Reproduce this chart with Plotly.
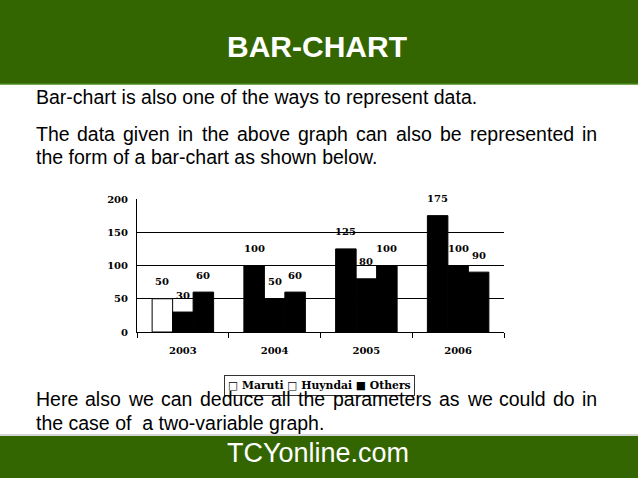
import plotly.graph_objects as go

# ---------------- data ----------------
years = ["2003", "2004", "2005", "2006"]
series_names = ["Maruti", "Huyndai", "Others"]
maruti = [50, 100, 125, 175]
huyndai = [30, 50, 80, 100]
others = [60, 60, 100, 90]
y_ticks = [0, 50, 100, 150, 200]

title_text = "BAR-CHART"
footer_text = "TCYonline.com"
para_lines = [
    ("Bar-chart is also one of the ways to represent data.", False),
    ("The data given in the above graph can also be represented in", True),
    ("the form of a bar-chart as shown below.", False),
    ("Here also we can deduce all the parameters as we could do in", True),
    ("the case of  a two-variable graph.", False),
]

# ---------------- layout geometry ----------------
W, H = 638, 478
ML, MR, MT, MB = 137, 134, 199, 146
PW, PH = W - ML - MR, H - MT - MB

def px(X):
    return (X - ML) / PW

def py(Y):
    return (H - MB - Y) / PH

GREEN = "#336600"
SERIF = "DejaVu Serif"
SANS = "Liberation Sans, Arial, sans-serif"

# styles (per-point colours; only the first Maruti bar is hollow)
series_colors = [
    ["white", "black", "black", "black"],
    ["black", "black", "black", "black"],
    ["black", "black", "black", "black"],
]
series_values = [maruti, huyndai, others]

fig = go.Figure()
for name, vals, cols in zip(series_names, series_values, series_colors):
    fig.add_trace(go.Bar(
        x=years, y=vals, name=name,
        marker=dict(color=cols, line=dict(color="black", width=1)),
        showlegend=False, hoverinfo="skip",
    ))

BARGAP = 0.33
cat_px = PW / len(years)
bar_px = cat_px * (1 - BARGAP) / len(series_names)

annotations = []
# value labels above bars (x given as category index)
for i, vals in enumerate(series_values):
    for j, v in enumerate(vals):
        annotations.append(dict(
            x=j, y=v, xref="x", yref="y", text=str(v),
            showarrow=False, xanchor="center", yanchor="middle",
            xshift=(i - 1) * bar_px, yshift=17,
            font=dict(family=SERIF, size=10, color="black", weight="bold"),
        ))

# legend box (manual, built from series names)
symbols = ["□", "□", "■"]
legend_txt = " ".join(f"{s} {n}" for s, n in zip(symbols, series_names))
annotations.append(dict(
    x=px(319), y=py(385.5), xref="paper", yref="paper", text=legend_txt,
    showarrow=False, xanchor="center", yanchor="middle",
    font=dict(family=SERIF, size=10.8, color="black", weight="bold"),
    bordercolor="#333333", borderwidth=1, borderpad=3, bgcolor="rgba(0,0,0,0)",
))

# title and footer
annotations.append(dict(
    x=px(317), y=py(46.5), xref="paper", yref="paper", text=title_text,
    showarrow=False, xanchor="center", yanchor="middle",
    font=dict(family=SANS, size=30, color="white", weight="bold"),
))
annotations.append(dict(
    x=px(318), y=py(453), xref="paper", yref="paper", text=footer_text,
    showarrow=False, xanchor="center", yanchor="middle",
    font=dict(family=SANS, size=27, color="white"),
))

# Arial / Liberation Sans advance widths (per 1000 em)
AW = dict(zip("abcdefghijklmnopqrstuvwxyz",
              [556, 556, 500, 556, 556, 278, 556, 556, 222, 222, 500, 222, 833,
               556, 556, 556, 556, 333, 500, 278, 556, 500, 722, 500, 500, 500]))
AW.update({"T": 611, "H": 722, "B": 667, "-": 333, ".": 278, " ": 278})

def wpx(s, fs):
    return sum(AW.get(c, 556) for c in s) * fs / 1000.0

FS = 19.5
LEFT, RIGHT = 35.5, 597.5
line_y = [97, 133.5, 157, 399, 422.5]
for (txt, just), yy in zip(para_lines, line_y):
    if not just:
        annotations.append(dict(
            x=px(LEFT), y=py(yy), xref="paper", yref="paper", text=txt.replace("  ", " &nbsp;"),
            showarrow=False, xanchor="left", yanchor="middle", borderpad=0, borderwidth=0,
            font=dict(family=SANS, size=FS, color="black"),
        ))
    else:
        words = txt.split(" ")
        total = sum(wpx(w, FS) for w in words)
        gap = (RIGHT - LEFT - total) / (len(words) - 1)
        xx = LEFT
        for w in words:
            annotations.append(dict(
                x=px(xx), y=py(yy), xref="paper", yref="paper", text=w,
                showarrow=False, xanchor="left", yanchor="middle", borderpad=0, borderwidth=0,
                font=dict(family=SANS, size=FS, color="black"),
            ))
            xx += wpx(w, FS) + gap

shapes = [
    dict(type="rect", xref="paper", yref="paper", x0=px(0), x1=px(W), y0=py(0), y1=py(84),
         fillcolor=GREEN, line=dict(width=0), layer="below"),
    dict(type="line", xref="paper", yref="paper", x0=px(0), x1=px(W), y0=py(84), y1=py(84),
         line=dict(color="#4a8a1c", width=1.5), layer="below"),
    dict(type="line", xref="paper", yref="paper", x0=px(0), x1=px(W), y0=py(435), y1=py(435),
         line=dict(color="#c8c8c8", width=1.5), layer="below"),
    dict(type="rect", xref="paper", yref="paper", x0=px(0), x1=px(W), y0=py(436), y1=py(H),
         fillcolor=GREEN, line=dict(width=0), layer="below"),
]

fig.update_layout(
    width=W, height=H,
    margin=dict(l=ML, r=MR, t=MT, b=MB, pad=0),
    paper_bgcolor="white", plot_bgcolor="white",
    barmode="group", bargap=BARGAP, bargroupgap=0,
    annotations=annotations, shapes=shapes,
    showlegend=False,
)
fig.update_xaxes(
    type="category", range=[-0.5, len(years) - 0.5],
    showgrid=False, showline=True, linecolor="black", linewidth=1,
    ticks="outside", tickson="boundaries", ticklen=5, tickcolor="black", tickwidth=1,
    ticklabelstandoff=9,
    tickfont=dict(family=SERIF, size=10, color="black", weight="bold"),
)
fig.update_yaxes(
    range=[0, 200], tickvals=y_ticks, showgrid=True, gridcolor="black", gridwidth=1,
    showline=True, linecolor="black", linewidth=1, ticks="", zeroline=False,
    ticklabelstandoff=6,
    tickfont=dict(family=SERIF, size=10, color="black", weight="bold"),
)

fig.write_html(
    "out.html",
    config={"displayModeBar": False},
    post_script="document.body.style.margin='0';document.body.style.overflow='hidden';",
)
